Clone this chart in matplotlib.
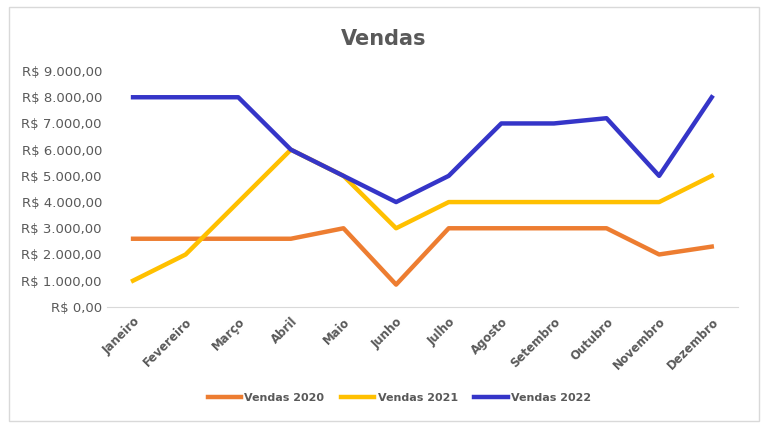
import matplotlib.pyplot as plt
from matplotlib.ticker import FuncFormatter
from matplotlib.patches import Rectangle

meses = ["Janeiro", "Fevereiro", "Março", "Abril", "Maio", "Junho", "Julho",
         "Agosto", "Setembro", "Outubro", "Novembro", "Dezembro"]
vendas_2020 = [2600, 2600, 2600, 2600, 3000, 850, 3000, 3000, 3000, 3000, 2000, 2300]
vendas_2021 = [1000, 2000, 4000, 6000, 5000, 3000, 4000, 4000, 4000, 4000, 4000, 5000]
vendas_2022 = [8000, 8000, 8000, 6000, 5000, 4000, 5000, 7000, 7000, 7200, 5000, 8000]

def brl(v, pos):
    s = f"{v:,.2f}".replace(",", "X").replace(".", ",").replace("X", ".")
    return "R$ " + s

fig = plt.figure(figsize=(7.68, 4.28), dpi=100)
fig.patches.append(Rectangle((0.012, 0.016), 0.976, 0.968, transform=fig.transFigure,
                             fill=False, edgecolor="#d9d9d9", linewidth=1))
ax = fig.add_axes([0.139, 0.283, 0.822, 0.551])
x = range(len(meses))
ax.plot(x, vendas_2020, color="#ED7D31", lw=3.2, label="Vendas 2020")
ax.plot(x, vendas_2021, color="#FFC000", lw=3.2, label="Vendas 2021")
ax.plot(x, vendas_2022, color="#3535C8", lw=3.2, label="Vendas 2022")

ax.set_xlim(-0.5, len(meses) - 0.5)
ax.set_ylim(0, 9000)
ax.set_yticks(range(0, 9001, 1000))
ax.yaxis.set_major_formatter(FuncFormatter(brl))
ax.set_xticks(list(x))
ax.set_xticklabels(meses, rotation=45, ha="right", rotation_mode="anchor",
                   fontweight="bold", fontsize=8.5, color="#595959")
for t in ax.get_yticklabels():
    t.set_fontsize(9.5)
    t.set_color("#595959")
for s in ["top", "right", "left"]:
    ax.spines[s].set_visible(False)
ax.spines["bottom"].set_color("#d9d9d9")
ax.tick_params(length=0)
ax.tick_params(axis="x", pad=6)

fig.text(0.5, 0.91, "Vendas", ha="center", va="center", fontsize=15,
         fontweight="bold", color="#595959")
leg = fig.legend(loc="center", bbox_to_anchor=(0.52, 0.07), ncol=3, frameon=False,
                 prop={"weight": "bold", "size": 8}, handlelength=3.0,
                 handletextpad=0.3, columnspacing=1.5)
for t in leg.get_texts():
    t.set_color("#595959")

fig.savefig("out.png", dpi=100)
